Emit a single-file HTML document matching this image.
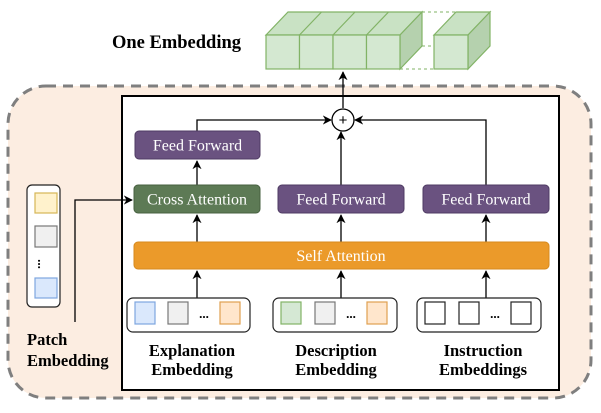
<!DOCTYPE html>
<html><head><meta charset="utf-8"><style>body{margin:0;background:#fff}svg{display:block}</style></head><body>
<svg width="601" height="413" viewBox="0 0 601 413" xmlns="http://www.w3.org/2000/svg" font-family="Liberation Serif, serif">
<defs>
<marker id="a" viewBox="0 0 10 10" refX="9" refY="5" markerWidth="7" markerHeight="7" orient="auto"><path d="M0,0 L10,5 L0,10 L3,5z" fill="#000"/></marker>
</defs>
<rect x="8" y="86" width="583" height="312" rx="38" fill="#fcede1" stroke="#7f7f7f" stroke-width="3" stroke-dasharray="10,7"/>
<rect x="122" y="96" width="437" height="294" fill="#fff" stroke="#000" stroke-width="2"/>
<text x="112" y="48" font-size="18.5" font-weight="bold">One Embedding</text>
<g fill="#d4e8d1" stroke="#82b366" stroke-width="1.2">
<polygon points="266,35 288,12 422,12 400,35" fill="#c9e2c4"/>
<polygon points="400,35 422,12 422,46 400,69" fill="#b5d1ae"/>
<rect x="266" y="35" width="33.5" height="34"/><rect x="299.5" y="35" width="33.5" height="34"/><rect x="333" y="35" width="33.5" height="34"/><rect x="366.5" y="35" width="33.5" height="34"/>
<line x1="299.5" y1="35" x2="321.5" y2="12"/><line x1="333" y1="35" x2="355" y2="12"/><line x1="366.5" y1="35" x2="388.5" y2="12"/>
<polygon points="434,35 456,12 490,12 468,35" fill="#c9e2c4"/>
<polygon points="468,35 490,12 490,46 468,69" fill="#b5d1ae"/>
<rect x="434" y="35" width="34" height="34"/>
</g>
<g stroke="#82b366" stroke-dasharray="3,3" stroke-width="1"><line x1="422" y1="12" x2="456" y2="12"/><line x1="400" y1="69" x2="434" y2="69"/><line x1="422" y1="46" x2="434" y2="46"/></g>
<g stroke="#000" stroke-width="1.3" fill="none">
<line x1="343" y1="108" x2="343" y2="72" marker-end="url(#a)"/>
<polyline points="197,131 197,120 331,120" marker-end="url(#a)"/>
<polyline points="486,185 486,120 355,120" marker-end="url(#a)"/>
<line x1="341" y1="185" x2="341" y2="132" marker-end="url(#a)"/>
<line x1="197" y1="185" x2="197" y2="161" marker-end="url(#a)"/>
<line x1="197" y1="242" x2="197" y2="215" marker-end="url(#a)"/>
<line x1="341" y1="242" x2="341" y2="215" marker-end="url(#a)"/>
<line x1="486" y1="242" x2="486" y2="215" marker-end="url(#a)"/>
<line x1="197" y1="298" x2="197" y2="271" marker-end="url(#a)"/>
<line x1="341" y1="298" x2="341" y2="271" marker-end="url(#a)"/>
<line x1="486" y1="298" x2="486" y2="271" marker-end="url(#a)"/>
<polyline points="75,322 75,200 132,200" marker-end="url(#a)"/>
</g>
<circle cx="343" cy="120" r="11" fill="#fff" stroke="#000" stroke-width="1.3"/>
<text x="343" y="125" font-size="15" text-anchor="middle" font-family="Liberation Sans, sans-serif">+</text>
<g font-size="16" fill="#fff" text-anchor="middle">
<rect x="135" y="131" width="125" height="28" rx="4" fill="#6a5280" stroke="#4f3b63"/>
<text x="197.5" y="150.5">Feed Forward</text>
<rect x="134" y="185" width="126" height="28" rx="4" fill="#5d7a55" stroke="#476040"/>
<text x="197" y="204.5">Cross Attention</text>
<rect x="278" y="185" width="126" height="28" rx="4" fill="#6a5280" stroke="#4f3b63"/>
<text x="341" y="204.5">Feed Forward</text>
<rect x="423" y="185" width="126" height="28" rx="4" fill="#6a5280" stroke="#4f3b63"/>
<text x="486" y="204.5">Feed Forward</text>
<rect x="134" y="242" width="415" height="27" rx="4" fill="#eb9a2a" stroke="#d78a1e"/>
<text x="341" y="261">Self Attention</text>
</g>
<g stroke="#222" stroke-width="1.2">
<rect x="127" y="298" width="123" height="34" rx="6" fill="#fff"/>
<rect x="273" y="298" width="124" height="34" rx="6" fill="#fff"/>
<rect x="417" y="298" width="124" height="34" rx="6" fill="#fff"/>
<rect x="27" y="185" width="33" height="122" rx="5" fill="#fff"/>
</g>
<g stroke-width="1.2">
<rect x="135" y="302" width="20" height="22" fill="#dae8fc" stroke="#7ea6e0"/>
<rect x="168" y="302" width="20" height="22" fill="#f0f0f0" stroke="#777"/>
<rect x="220" y="302" width="20" height="22" fill="#ffe6cc" stroke="#e0a050"/>
<rect x="281" y="302" width="20" height="22" fill="#d5e8d4" stroke="#82b366"/>
<rect x="315" y="302" width="20" height="22" fill="#f0f0f0" stroke="#777"/>
<rect x="367" y="302" width="20" height="22" fill="#ffe6cc" stroke="#e0a050"/>
<rect x="425" y="302" width="20" height="22" fill="#fff" stroke="#222"/>
<rect x="459" y="302" width="20" height="22" fill="#fff" stroke="#222"/>
<rect x="511" y="302" width="20" height="22" fill="#fff" stroke="#222"/>
<rect x="35" y="193" width="22" height="20" fill="#fff2cc" stroke="#d6b656"/>
<rect x="35" y="226" width="22" height="21" fill="#f0f0f0" stroke="#777"/>
<rect x="35" y="278" width="22" height="20" fill="#dae8fc" stroke="#7ea6e0"/>
</g>
<g font-size="13" font-weight="bold" text-anchor="middle">
<text x="204" y="318">...</text><text x="351" y="318">...</text><text x="495" y="318">...</text>
</g>
<text x="44" y="270" font-size="13" font-weight="bold" transform="rotate(90 44 264)" text-anchor="middle">...</text>
<g font-size="16.5" font-weight="bold" text-anchor="middle">
<text x="192" y="356">Explanation</text><text x="192" y="375">Embedding</text>
<text x="336" y="356">Description</text><text x="336" y="375">Embedding</text>
<text x="483" y="356">Instruction</text><text x="483" y="375">Embeddings</text>
</g>
<g font-size="16.5" font-weight="bold">
<text x="27" y="345">Patch</text><text x="27" y="366">Embedding</text>
</g>
</svg>
</body></html>
